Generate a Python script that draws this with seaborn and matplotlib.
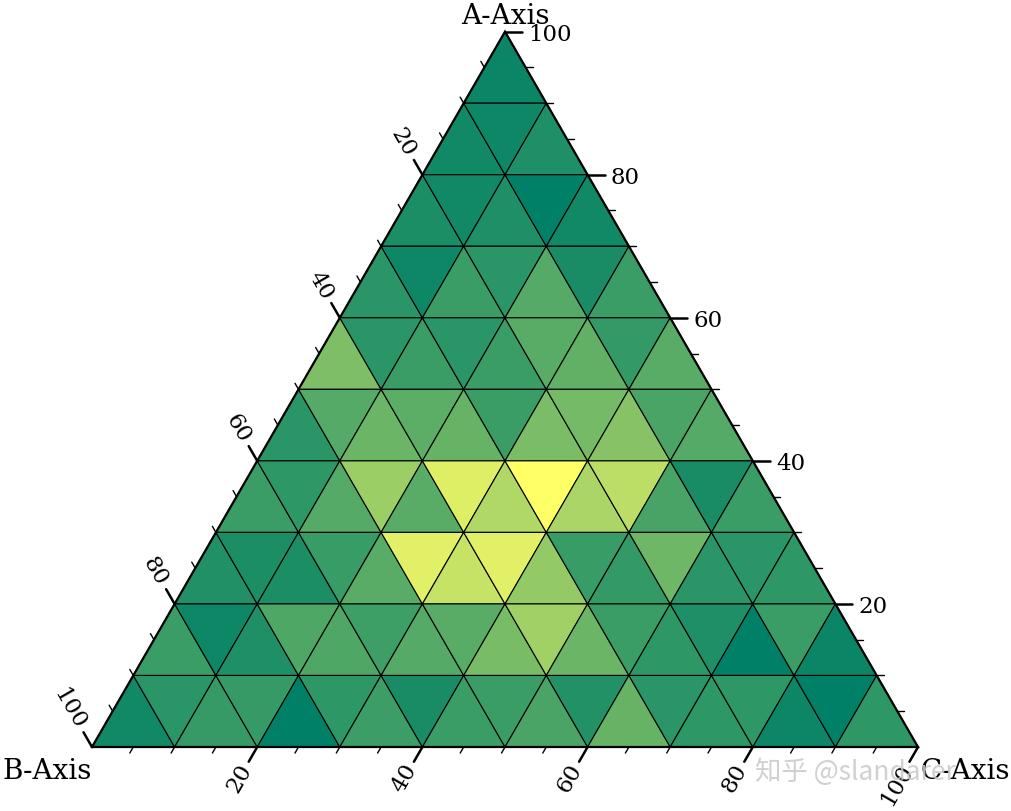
import numpy as np
import seaborn as sns
import matplotlib.pyplot as plt
from matplotlib.tri import Triangulation

# cell values per row, top row first, left to right (up, down, up, ...)
row_0 = [0.04]
row_1 = [0.07, 0.055, 0.12]
row_2 = [0.11, 0.07, 0.12, 0.00, 0.07]
row_3 = [0.165, 0.055, 0.23, 0.165, 0.33, 0.10, 0.23]
row_4 = [0.49, 0.165, 0.23, 0.165, 0.23, 0.35, 0.38, 0.20, 0.35]
row_5 = [0.165, 0.33, 0.42, 0.36, 0.40, 0.23, 0.48, 0.46, 0.53, 0.29, 0.33]
row_6 = [0.23, 0.18, 0.33, 0.61, 0.35, 0.87, 0.69, 1.00, 0.67, 0.74, 0.28, 0.10, 0.23]
row_7 = [0.13, 0.11, 0.11, 0.22, 0.35, 0.88, 0.78, 0.88, 0.58, 0.22, 0.20, 0.43,
         0.165, 0.165, 0.18]
row_8 = [0.23, 0.055, 0.12, 0.31, 0.31, 0.24, 0.33, 0.35, 0.47, 0.63, 0.42, 0.23,
         0.18, 0.12, 0.00, 0.23, 0.04]
row_9 = [0.07, 0.165, 0.21, 0.21, 0.00, 0.18, 0.235, 0.10, 0.23, 0.23, 0.29, 0.14,
         0.40, 0.165, 0.18, 0.18, 0.05, 0.00, 0.18]
rows = [row_0, row_1, row_2, row_3, row_4, row_5, row_6, row_7, row_8, row_9]

tick_values = list(range(5, 101, 5))
major_ticks = [20, 40, 60, 80, 100]
axis_names = ['A-Axis', 'B-Axis', 'C-Axis']

N = 10
H = np.sqrt(3) / 2
S = 826.0  # pixels per unit side


def tern(a, c):
    # a, c fractions -> cartesian (B at bottom-left, C bottom-right, A top)
    return c + a / 2, a * H


def px(x, y):
    return (x - 92) / S, (748 - y) / S


sns.set_theme(style='white')
plt.rcParams['font.family'] = ['DejaVu Serif']
plt.rcParams['text.color'] = 'black'

# grid nodes
idx = {}
xs, ys = [], []
for a in range(N + 1):
    for c in range(N + 1 - a):
        idx[(a, c)] = len(xs)
        x, y = tern(a / N, c / N)
        xs.append(x)
        ys.append(y)

tris = []
vals = []
for r in range(N):
    lo, hi = N - 1 - r, N - r
    for k in range(2 * r + 1):
        j = k // 2
        if k % 2 == 0:
            tris.append([idx[(lo, j)], idx[(lo, j + 1)], idx[(hi, j)]])
        else:
            tris.append([idx[(hi, j)], idx[(hi, j + 1)], idx[(lo, j + 1)]])
        vals.append(rows[r][k])

tri = Triangulation(xs, ys, tris)
cmap = sns.color_palette('summer', as_cmap=True)

fig = plt.figure(figsize=(10.11, 8.12), dpi=100)
ax = fig.add_axes([0, 0, 1, 1])
ax.set_xlim(-92 / S, (1011 - 92) / S)
ax.set_ylim((748 - 812) / S, 748 / S)
ax.set_aspect('equal')
ax.axis('off')

ax.tripcolor(tri, facecolors=np.array(vals), cmap=cmap,
             vmin=min(vals), vmax=max(vals), edgecolors='black', linewidth=0.8)
ax.plot([0, 1, 0.5, 0], [0, 0, H, 0], color='black', lw=1.6,
        solid_joinstyle='miter', solid_capstyle='projecting')

fs = 16.5
for t in tick_values:
    major = t in major_ticks
    ln = (17 if major else 7) / S
    lw = 1.8 if major else 1.0
    f = t / 100
    # A axis (right edge), horizontal ticks
    p = tern(f, 1 - f)
    d = (1.0, 0.0)
    ax.plot([p[0], p[0] + d[0] * ln], [p[1], p[1] + d[1] * ln], color='black', lw=lw)
    if major:
        ax.text(p[0] + 23 / S, p[1] - 2 / S, str(t), ha='left', va='center', fontsize=fs)
    # B axis (left edge)
    p = tern(1 - f, 0)
    d = (-0.5, H)
    ax.plot([p[0], p[0] + d[0] * ln], [p[1], p[1] + d[1] * ln], color='black', lw=lw)
    if major:
        ax.text(p[0] + d[0] * 24 / S, p[1] + d[1] * 24 / S, str(t), ha='right',
                va='center', rotation=-60, rotation_mode='anchor', fontsize=fs)
    # C axis (bottom edge)
    p = tern(0, f)
    d = (-0.5, -H)
    ax.plot([p[0], p[0] + d[0] * ln], [p[1], p[1] + d[1] * ln], color='black', lw=lw)
    if major:
        ax.text(p[0] + d[0] * 21 / S, p[1] + d[1] * 21 / S, str(t), ha='right',
                va='center', rotation=60, rotation_mode='anchor', fontsize=fs)

ax.text(*px(505, 16), axis_names[0], ha='center', va='center', fontsize=20)
ax.text(*px(47, 772), axis_names[1], ha='center', va='center', fontsize=20)
ax.text(*px(965, 772), axis_names[2], ha='center', va='center', fontsize=20)

ax.text(*px(755, 772), '知乎 @slandarer', ha='left', va='center', fontsize=19,
        color='#c8c8c8', alpha=0.85, family=['Noto Sans CJK SC', 'DejaVu Sans'])

fig.savefig('out.png', dpi=100)
